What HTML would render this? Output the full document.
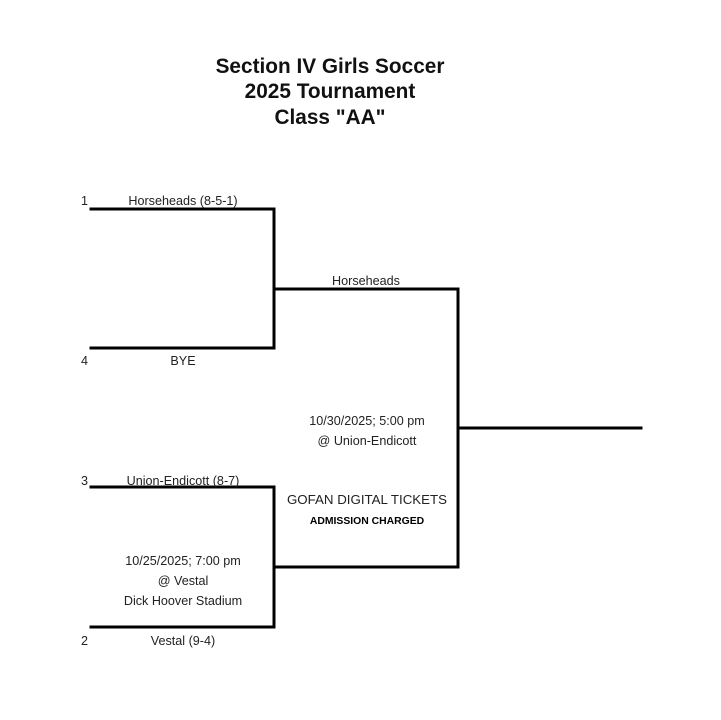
<!DOCTYPE html>
<html><head><meta charset="utf-8"><style>
html,body{margin:0;padding:0;background:#fff;}
svg{display:block;}
text{font-family:"Liberation Sans",Arial,sans-serif;fill:#222;}
</style></head><body>
<svg width="721" height="720" viewBox="0 0 721 720" xmlns="http://www.w3.org/2000/svg">
<rect width="721" height="720" fill="#fff"/>
<g font-weight="bold" font-size="20.8" text-anchor="middle">
<text x="330" y="73" style="fill:#111">Section IV Girls Soccer</text>
<text x="330" y="98" style="fill:#111">2025 Tournament</text>
<text x="330" y="124" style="fill:#111">Class "AA"</text>
</g>
<g stroke="#000" stroke-width="3" fill="none" stroke-linecap="square">
<polyline points="91,209 274,209 274,348 91,348"/>
<line x1="274" y1="289" x2="458" y2="289"/>
<polyline points="91,487 274,487 274,627 91,627"/>
<line x1="274" y1="567" x2="458" y2="567"/>
<line x1="458" y1="289" x2="458" y2="567"/>
<line x1="458" y1="428" x2="641" y2="428"/>
</g>
<g font-size="12.6">
<text x="81" y="205">1</text>
<text x="81" y="365">4</text>
<text x="81" y="485">3</text>
<text x="81" y="645">2</text>
<g text-anchor="middle">
<text x="183" y="205">Horseheads (8-5-1)</text>
<text x="183" y="365">BYE</text>
<text x="366" y="285">Horseheads</text>
<text x="183" y="485">Union-Endicott (8-7)</text>
<text x="183" y="645">Vestal (9-4)</text>
<text x="183" y="565">10/25/2025; 7:00 pm</text>
<text x="183" y="585">@ Vestal</text>
<text x="183" y="605">Dick Hoover Stadium</text>
<text x="367" y="425">10/30/2025; 5:00 pm</text>
<text x="367" y="445">@ Union-Endicott</text>
<text x="367" y="504" font-size="13.3">GOFAN DIGITAL TICKETS</text>
<text x="367" y="524" font-size="10.4" font-weight="bold" style="fill:#000">ADMISSION CHARGED</text>
</g>
</g>
</svg>
</body></html>
